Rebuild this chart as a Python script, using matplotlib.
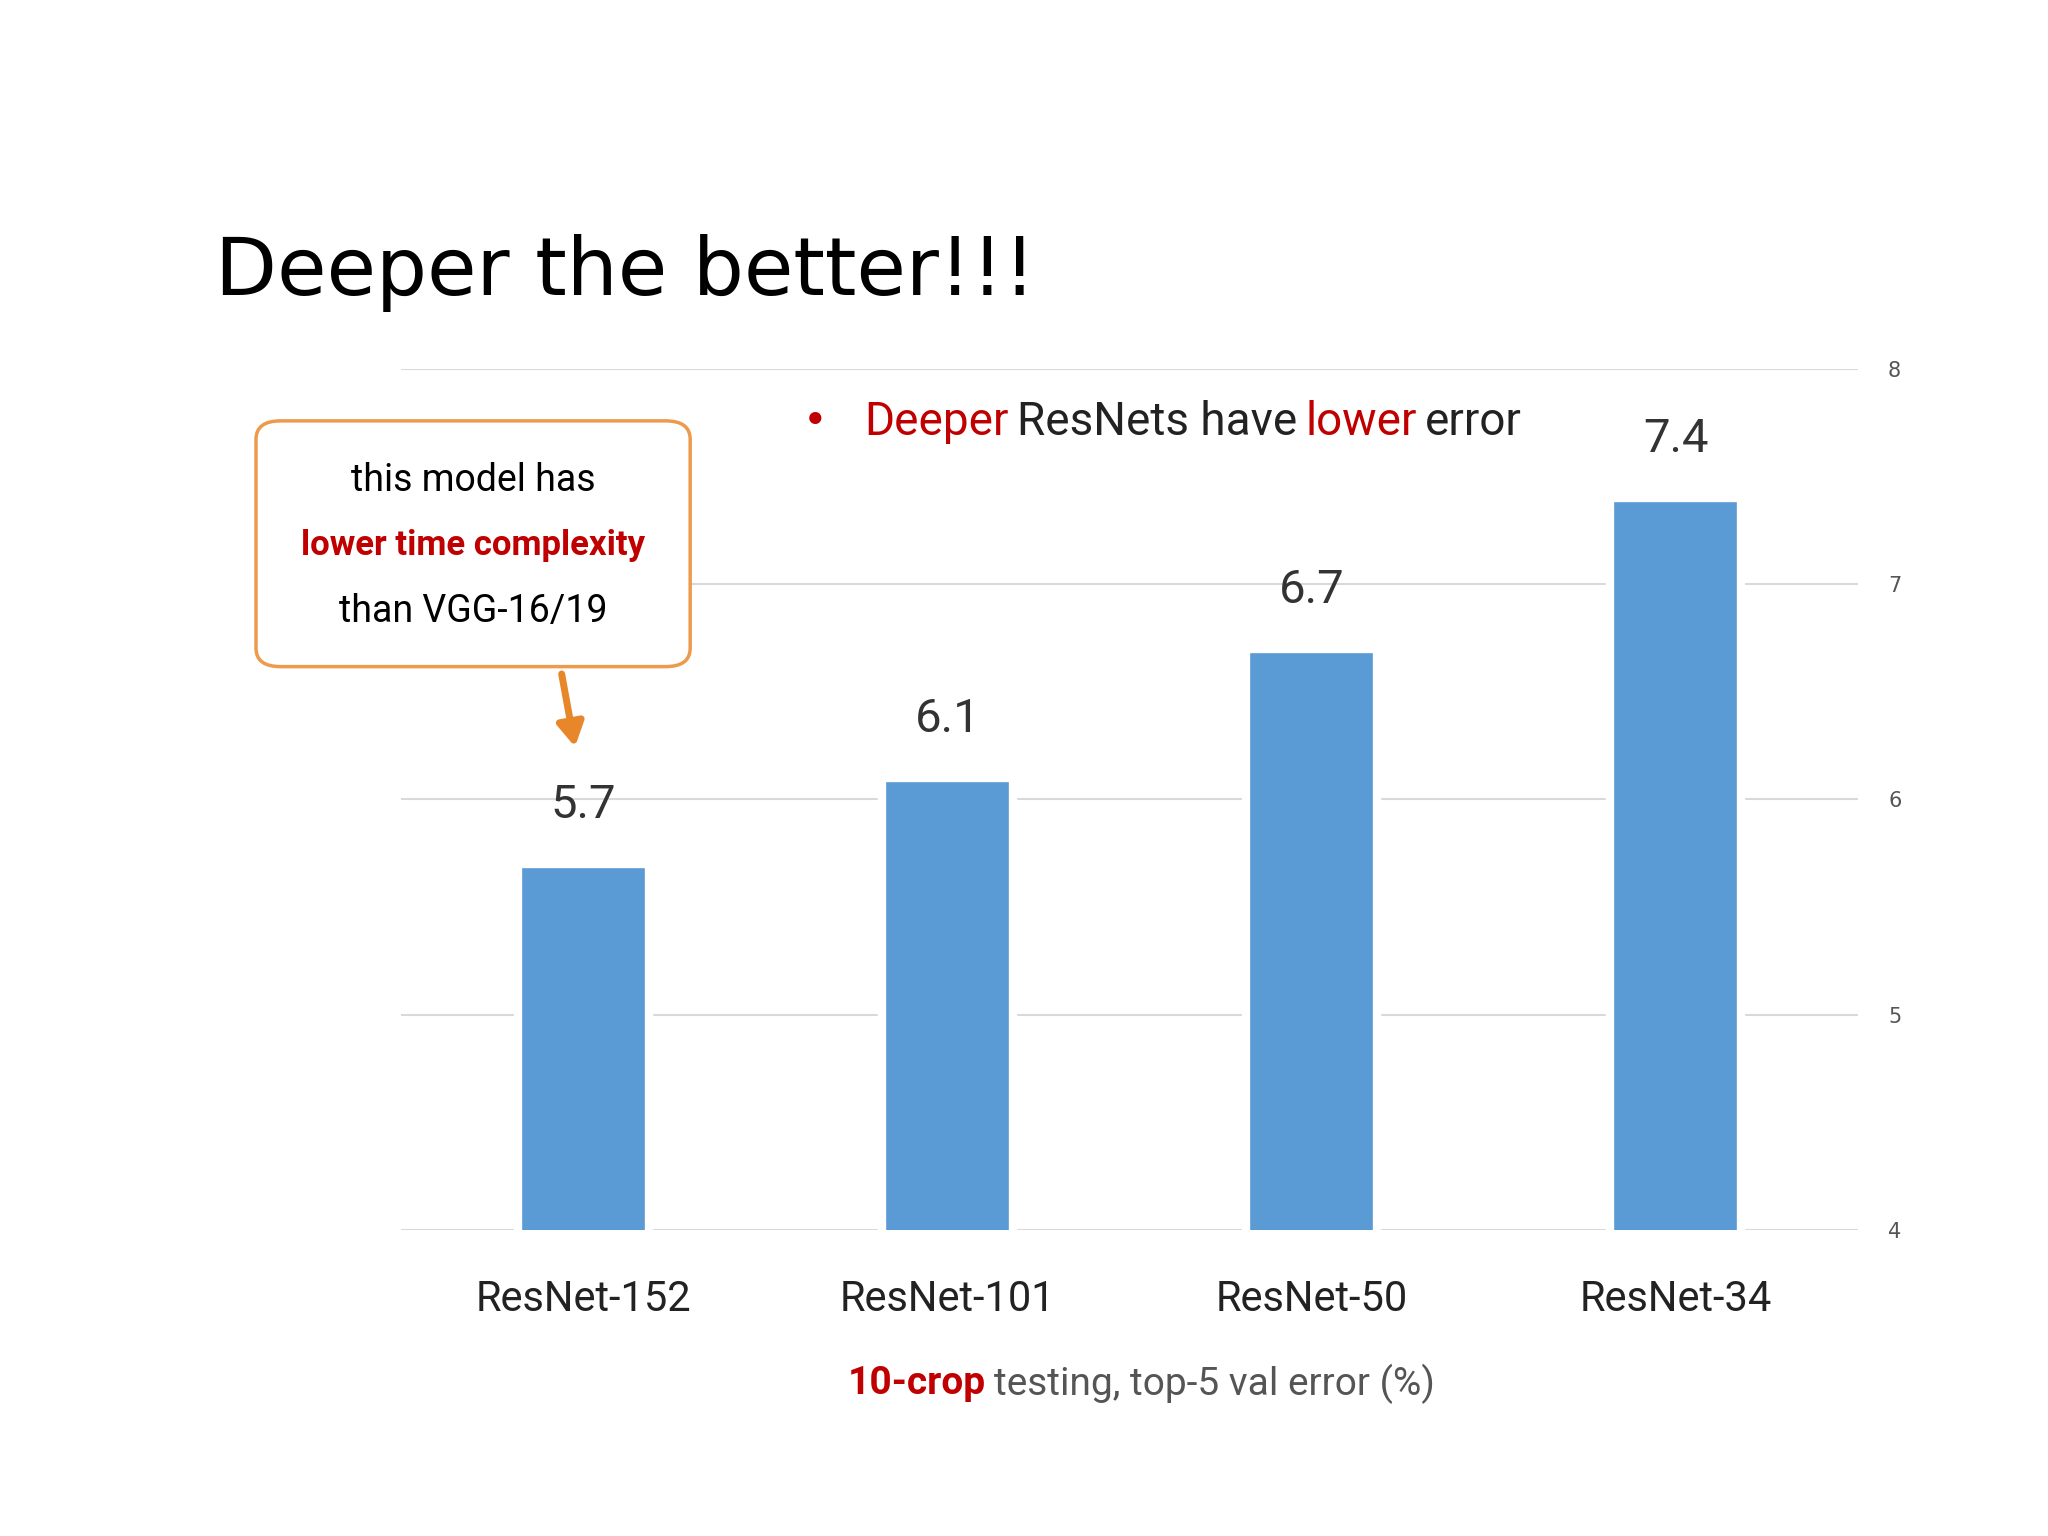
import matplotlib.pyplot as plt
from matplotlib.patches import FancyBboxPatch, FancyArrowPatch

models = ["ResNet-152", "ResNet-101", "ResNet-50", "ResNet-34"]
errors = [5.7, 6.1, 6.7, 7.4]
yticks = [4, 5, 6, 7, 8]

FONT = ["Liberation Sans Narrow", "Roboto", "DejaVu Sans"]
RED = "#C00000"

fig = plt.figure(figsize=(20.48, 15.36), dpi=100)
fig.patch.set_facecolor("white")

ax = fig.add_axes([0.196, 0.199, 0.711, 0.561])
x = range(len(models))
ax.bar(x, errors, width=0.36, color="#5B9BD5", edgecolor="white", linewidth=6, zorder=3)
ax.set_xlim(-0.5, 3.5)
ax.set_ylim(4, 8)
ax.set_yticks(yticks)
ax.yaxis.tick_right()
ax.tick_params(axis="y", length=0, labelsize=15, colors="#555555", pad=22)
ax.tick_params(axis="x", length=0, labelsize=30, pad=35)
ax.set_xticks(list(x))
ax.set_xticklabels(models, family=FONT, color="#222222")
ax.grid(axis="y", color="#d9d9d9", linewidth=1.5, zorder=0)
for s in ax.spines.values():
    s.set_visible(False)

for i, v in enumerate(errors):
    ax.text(i, v + 0.17, f"{v}", ha="center", va="bottom", fontsize=34,
            family=FONT, color="#333333")

# title
fig.text(0.105, 0.822, "Deeper the better!!!", fontsize=58, ha="left", va="center")

# in-chart bullet text
fig.text(0.392, 0.725, "\u2022", fontsize=30, color=RED, ha="left", va="center")
t1 = fig.text(0.422, 0.725, "Deeper", fontsize=33, color=RED, family=FONT, va="center")
fig.canvas.draw()
r = fig.canvas.get_renderer()
def after(t, s, color):
    bb = t.get_window_extent(r)
    xn = bb.x1 / fig.bbox.width + 0.004
    return fig.text(xn, 0.725, s, fontsize=33, color=color, family=FONT, va="center")
t2 = after(t1, "ResNets have", "#222222")
t3 = after(t2, "lower", RED)
after(t3, "error", "#222222")

# x axis caption
c1 = fig.text(0.414, 0.099, "10-crop", fontsize=28, color=RED, family=FONT,
              weight="bold", va="center")
bb = c1.get_window_extent(r)
fig.text(bb.x1 / fig.bbox.width + 0.004, 0.099, "testing, top-5 val error (%)",
         fontsize=28, color="#555555", family=FONT, va="center")

# callout box
box = FancyBboxPatch((0.125, 0.566), 0.212, 0.16, boxstyle="round,pad=0,rounding_size=0.012",
                     transform=fig.transFigure, facecolor="white", edgecolor="#ED9A4D",
                     linewidth=2.5)
fig.patches.append(box)
fig.text(0.231, 0.687, "this model has", fontsize=27, family=FONT, ha="center", va="center")
fig.text(0.231, 0.645, "lower time complexity", fontsize=25, family=FONT, color=RED,
         weight="bold", ha="center", va="center")
fig.text(0.231, 0.602, "than VGG-16/19", fontsize=27, family=FONT, ha="center", va="center")
fig.patches.append(FancyArrowPatch(
    (0.274, 0.563), (0.281, 0.512), transform=fig.transFigure,
    arrowstyle="-|>,head_width=8,head_length=14", color="#E8862A", linewidth=5))

fig.savefig("out.png", dpi=100)
